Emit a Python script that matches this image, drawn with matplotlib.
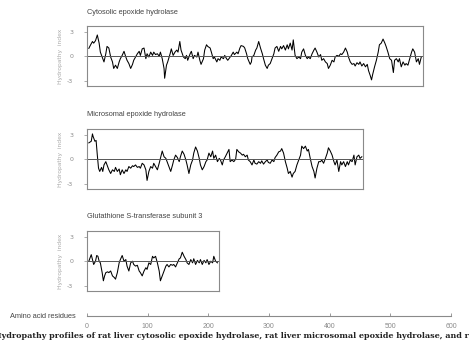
import matplotlib
matplotlib.use("Agg")
from matplotlib import pyplot as plt

# Perfiles de hidropatía (residuo, índice)
cyto_res = [3, 6, 9, 11, 14, 17, 20, 22, 25, 28, 31, 33, 36, 39, 42, 44, 47, 50, 53, 55,
            58, 61, 64, 66, 69, 72, 75, 77, 80, 83, 86, 88, 91, 94, 97, 99, 102, 105, 108, 110,
            113, 116, 119, 121, 124, 127, 128, 131, 133, 137, 139, 142, 145, 148, 150, 153, 155, 159, 162, 164,
            166, 170, 172, 175, 177, 181, 183, 186, 188, 192, 194, 197, 199, 203, 205, 208, 210, 214, 216, 219,
            221, 225, 227, 230, 232, 236, 238, 241, 243, 247, 249, 252, 254, 258, 260, 263, 265, 269, 271,
            272, 275, 278, 280, 283, 286, 289, 291, 294, 297, 299, 302, 305, 308, 310, 313, 316, 319, 321, 324,
            327, 330, 332, 335, 338, 340, 343, 346, 349, 352, 354, 357, 360, 363, 365, 368, 371, 374, 376, 379,
            382, 385, 387, 390, 393, 396, 398, 401, 404, 407, 409, 412, 415, 418, 420, 423, 426, 429, 431, 434,
            437, 440, 442, 445, 448, 450, 453, 456, 459, 462, 464, 467, 469, 471, 474, 477, 480, 482, 485, 488,
            491, 493, 496, 499, 502, 505, 507, 510, 513, 515, 518, 521, 524, 526, 529, 532, 535, 537, 540, 543,
            546, 548, 551]
cyto_val = [0.96, 1.4, 1.8, 1.6, 1.9, 2.6, 1.6, 0.5, -0.1, -0.7, 0.3, 1.2, 1.0, -0.1, -0.7, -1.5, -1.1, -1.5, -0.7, -0.3,
            0.1, 0.6, -0.1, -0.5, -0.9, -1.5, -1.0, -0.5, -0.1, 0.3, 0.6, 0.1, 0.9, 1.0, -0.3, 0.3, -0.1, 0.5, 0.1, 0.5,
            0.2, 0.3, 0.0, 0.5, -0.3, -1.5, -2.7, -1.1, -0.7, 0.3, 0.9, 0.1, 0.5, 0.75, 0.5, 1.8, 0.75, -0.1, -0.3, 0.1,
            -0.5, 0.3, 0.6, -0.3, 0.1, -0.1, 0.5, -0.5, -1.0, -0.3, 0.75, 1.4, 1.2, 1.0, 0.5, -0.3, -0.1, -0.7, -0.3, -0.5,
            -0.1, -0.3, 0.1, -0.3, -0.5, -0.1, 0.1, 0.5, 0.2, 0.5, 0.3, 1.0, 1.3, 1.2, 1.0, 0.3, -0.3, -1.0, -0.7,
            -0.1, 0.1, 0.75, 1.0, 1.8, 1.0, 0.3, -0.3, -1.1, -1.5, -1.1, -0.9, -0.3, 0.3, 1.0, 1.2, 0.6, 1.2, 0.9, 1.3,
            0.75, 1.4, 0.9, 1.6, 0.75, 2.0, 0.1, -0.3, -0.1, -0.3, 0.5, 0.9, 0.1, -0.3, -0.1, -0.3, 0.3, 0.75, 1.0, 0.5,
            -0.1, 0.2, -0.5, -0.3, -0.7, -0.9, -1.5, -1.1, -0.5, -0.7, -0.1, 0.1, 0.0, 0.3, 0.2, 0.5, 1.0, 0.5, -0.1, -0.7,
            -1.0, -0.9, -1.2, -0.8, -1.0, -0.7, -1.2, -0.9, -1.3, -1.0, -1.75, -2.4, -2.9, -2.2, -1.3, -0.5, 0.5, 1.4, 1.6, 2.1,
            1.6, 1.2, 0.5, -0.3, -0.5, -2.0, -0.5, -0.3, -0.7, -0.3, -1.3, -0.7, -1.1, -0.9, -1.1, -0.3, 0.5, 0.9, 0.5, -0.7,
            -0.3, -1.0, -0.1]

micro_res = [3, 5, 7, 9, 10, 13, 15, 17, 19, 21, 24, 26, 28, 31, 34, 36, 39, 42, 45, 47,
             50, 53, 55, 58, 61, 64, 66, 69, 72, 75, 77, 80, 83, 86, 88, 91, 94, 97, 99, 102,
             105, 108, 110, 113, 116, 119, 121, 124, 127, 130, 132, 135, 138, 141, 143, 146, 149, 152, 154, 157,
             160, 163, 165, 168, 171, 174, 176, 179, 182, 185, 187, 190, 193, 196, 198, 201, 204, 207, 209, 212,
             215, 218, 220, 223,
             225, 228, 231, 234, 236, 239, 242, 245, 247, 250, 253, 256, 258, 261, 264, 266, 269, 272, 275, 277,
             280, 283, 286, 288, 291, 294, 297, 299, 302, 305, 308, 310, 313, 316, 319, 321, 324, 327, 330, 332,
             335, 338, 340, 343, 346, 349, 352, 354, 357, 360, 363, 365, 368, 371, 374, 376, 379, 382, 385, 387,
             390, 393, 396, 398, 401, 404, 407, 409, 412, 415, 418, 420, 423, 426, 429, 431, 434, 437, 440, 442,
             445, 448, 450, 453]
micro_val = [2.0, 2.1, 2.2, 3.1, 2.8, 2.2, 2.3, 0.5, -1.1, -1.5, -1.0, -1.5, -0.7, -0.3, -0.9, -1.3, -1.75, -1.3, -1.5, -1.0,
             -1.5, -1.2, -1.9, -1.3, -1.75, -1.3, -1.5, -0.9, -1.1, -0.8, -0.9, -0.7, -1.0, -0.9, -1.1, -0.5, -0.7, -1.3, -2.6, -1.5,
             -0.9, -1.1, -0.5, -0.9, -1.3, -0.5, 0.1, 1.0, 0.3, 0.1, -0.3, -0.9, -1.5, -0.7, -0.1, 0.5, 0.2, -0.3, 0.3, 1.0,
             0.6, -0.1, -0.7, -1.75, -0.7, -0.1, 0.75, 1.5, 1.0, 0.1, -0.7, -1.3, -0.9, -0.3, -0.1, 0.75, 0.3, 1.0, 0.1, 0.5,
             -0.3, 0.1, -0.1, -0.7,
             -0.1, 0.3, 0.75, 1.2, -0.3, -0.1, -0.3, 0.0, 1.2, 0.9, 0.75, 0.5, 0.6, 0.3, 0.5, -0.1, -0.3, -0.7, -0.1, -0.5,
             -0.6, -0.3, -0.5, -0.2, -0.6, -0.3, -0.1, -0.4, -0.5, -0.1, -0.3, 0.2, 0.5, 0.9, 1.0, 1.3, 0.75, -0.3, -1.1, -1.75,
             -1.5, -2.2, -1.75, -1.5, -0.7, -0.1, 0.5, 1.6, 1.3, 1.6, 1.0, 1.2, 0.1, -0.9, -1.5, -2.3, -1.1, -0.3, -0.3, -0.1,
             -0.5, 0.1, 0.75, 1.4, 1.0, 0.5, -0.3, -0.7, -0.1, -1.5, -0.3, -0.7, -0.3, -0.9, -0.3, -0.7, -0.1, -0.3, 0.5, -0.7,
             0.3, 0.5, 0.1, 0.3]

gst_res = [3, 5, 7, 9, 11, 14, 16, 18, 20, 22, 25, 27, 29, 31, 34, 36, 39, 42, 45, 47,
           50, 53, 55, 58, 61, 64, 66, 69, 72, 75, 77, 80, 83, 86, 88, 91, 94, 97, 99, 102,
           105, 108, 110, 113, 116, 119, 121, 124, 127, 130, 132, 135, 138, 141, 143, 146, 149, 152, 154, 157,
           160, 163, 165, 168, 171, 174, 176, 179, 182, 185, 187, 190, 193, 196, 198, 201, 204, 207, 209, 212,
           215]
gst_val = [0.0, 0.4, 0.8, 0.2, -0.4, 0.0, 0.7, 0.6, 0.0, -0.2, -1.4, -2.4, -1.8, -1.4, -1.3, -1.4, -1.2, -1.8, -2.0, -2.2,
           -1.4, -0.2, 0.2, 0.7, 0.0, 0.2, -0.6, -1.2, -0.2, 0.0, -0.4, -0.6, -0.5, -1.2, -1.4, -1.8, -1.2, -0.8, -1.0, -0.2,
           -0.4, 0.6, 0.4, 0.6, -0.2, -1.2, -2.4, -1.8, -1.2, -0.6, -0.4, -0.7, -0.4, -0.5, -0.4, -0.7, -0.2, 0.3, 0.4, 1.1,
           0.6, 0.2, -0.2, -0.4, 0.2, -0.2, 0.3, -0.4, 0.1, -0.2, 0.2, -0.4, 0.1, -0.2, 0.2, -0.4, 0.0, -0.2, 0.6, 0.0,
           -0.2]

titulos = ["Cytosolic epoxide hydrolase", "Microsomal epoxide hydrolase",
           "Glutathione S-transferase subunit 3"]
longitudes = [554, 455, 217]
eje_x_ticks = [0, 100, 200, 300, 400, 500, 600]
eje_y_ticks = [-3, 0, 3]

W, H = 474, 342
gris = "#8a8a8a"
texto = "#444444"

fig = plt.figure(figsize=(W / 100, H / 100), dpi=100)


def caja(left, top, width, height):
    # convierte una caja en píxeles (origen arriba a la izquierda) a fracciones de figura
    return [left / W, 1 - (top + height) / H, width / W, height / H]


x0 = 87.0
px_por_residuo = (451.0 - x0) / 600
tops = [26, 129, 231]
alto = 60
perfiles = [(cyto_res, cyto_val), (micro_res, micro_val), (gst_res, gst_val)]

for titulo, n, top, (res, val) in zip(titulos, longitudes, tops, perfiles):
    ax = fig.add_axes(caja(x0, top, n * px_por_residuo, alto))
    ax.plot(res, val, color="black", lw=0.75)
    ax.axhline(0, color="#555555", lw=0.7)
    ax.set_xlim(0, n)
    ax.set_ylim(-3.65, 3.7)
    ax.set_xticks([])
    ax.set_yticks(eje_y_ticks)
    ax.set_yticklabels([str(t) for t in eje_y_ticks], fontsize=4.5, color=gris)
    ax.tick_params(axis="y", length=2, width=0.5, color=gris, pad=8)
    for s in ax.spines.values():
        s.set_color(gris)
        s.set_linewidth(0.8)
    ax.set_ylabel("Hydropathy  index", fontsize=4.3, color="#aaaaaa", labelpad=3)
    fig.text(x0 / W, 1 - (top - 14) / H, titulo, fontsize=5.3, color=texto,
             family="Liberation Sans", ha="left", va="center")

# Eje inferior de residuos
axx = fig.add_axes(caja(x0, 316, 600 * px_por_residuo, 0.001))
axx.set_xlim(0, 600)
axx.set_yticks([])
for lado in ["top", "left", "right"]:
    axx.spines[lado].set_visible(False)
axx.spines["bottom"].set_color(gris)
axx.spines["bottom"].set_linewidth(0.8)
axx.set_xticks(eje_x_ticks)
axx.set_xticklabels([str(t) for t in eje_x_ticks], fontsize=5, color=gris,
                    family="Liberation Sans")
axx.tick_params(axis="x", direction="in", length=2.5, width=0.6, color=gris, pad=5)
fig.text(10 / W, 1 - 316 / H, "Amino acid residues", fontsize=5.3, color=texto,
         family="Liberation Sans", ha="left", va="center")

# Pie de figura (cortado por los bordes)
fig.text(-6 / W, 1 - 336 / H,
         "Hydropathy profiles of rat liver cytosolic epoxide hydrolase, rat liver microsomal epoxide hydrolase, and r",
         fontsize=5.78, fontweight="bold", family="DejaVu Serif", color="#222222",
         ha="left", va="center")

fig.savefig("out.png", dpi=100)
